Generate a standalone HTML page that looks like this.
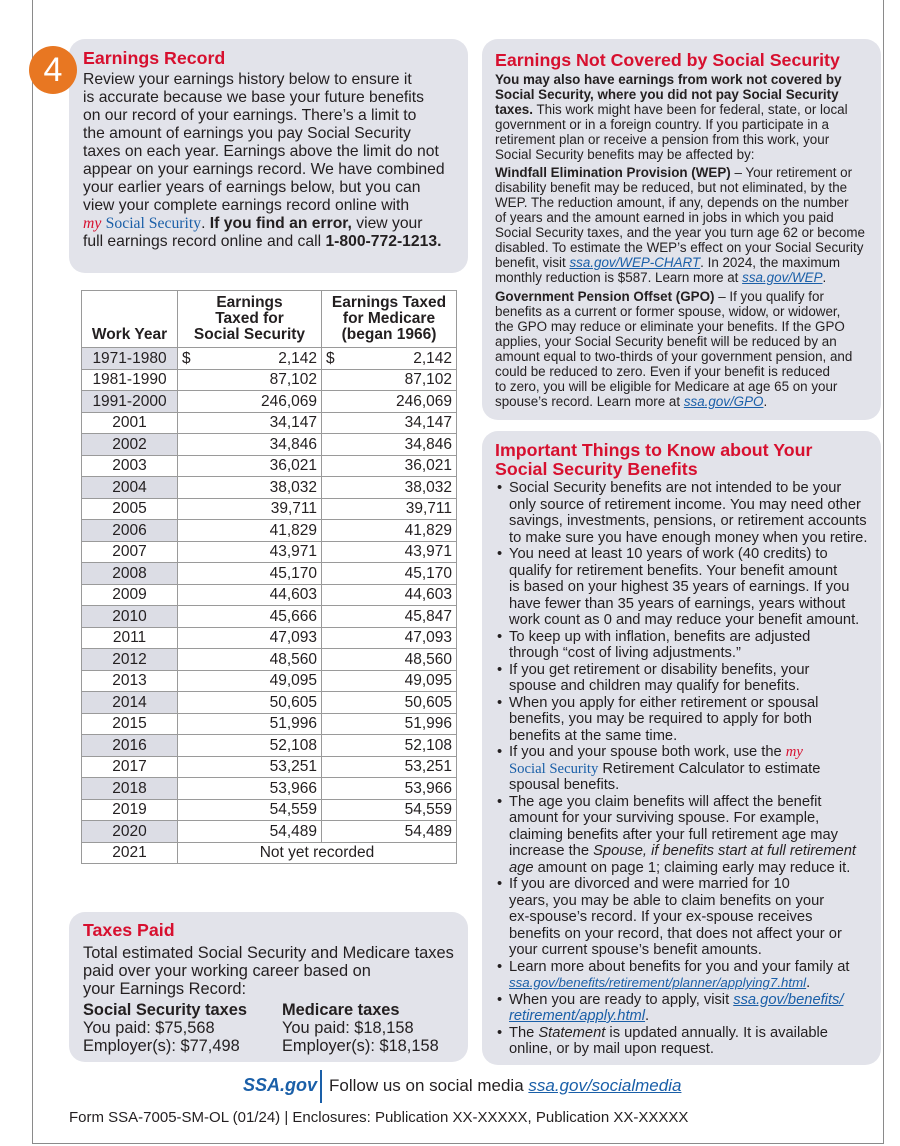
<!DOCTYPE html>
<html><head><meta charset="utf-8"><style>
*{margin:0;padding:0;box-sizing:border-box}
body{width:900px;height:1146px;background:#fff;position:relative;overflow:hidden;font-family:"Liberation Sans",Arial,sans-serif;color:#231f20}
.pg{position:absolute;left:32px;top:-2px;width:852px;height:1146px;border:1.5px solid #8a8a8a}
.box{position:absolute;background:#e2e3ea;border-radius:16px}
.t{position:absolute;white-space:nowrap}
.red{color:#d7102f;font-weight:bold}
.lnk{color:#1a5fa8;text-decoration:underline;font-style:italic}
.my{color:#d7102f;font-family:"Liberation Serif",serif;font-style:italic;line-height:1}
.ss{color:#1a5fa8;font-family:"Liberation Serif",serif;line-height:1}
table{position:absolute;left:81px;top:290px;width:376px;border-collapse:collapse;font-size:15.5px}
td{border:1px solid #9a9a9a;height:21.5px;padding:0 4px;line-height:19px}
td.y{text-align:center;width:96px}
tr:nth-child(even) td.y{background:#dcdde5}
td.n{text-align:right}
th{border:1px solid #9a9a9a;font-weight:bold;vertical-align:bottom;line-height:16px;padding:0 2px 4px;font-size:15.5px}
b{font-weight:bold}
.bul{position:absolute;left:497px;top:480px;font-size:14.7px;line-height:16.5px;white-space:nowrap}
.bul div{position:relative;padding-left:12px}
.bul div:before{content:"•";position:absolute;left:0}
</style></head><body>
<div class="pg"></div>

<div class="box" style="left:69px;top:39px;width:399px;height:234px"></div>
<div style="position:absolute;left:29px;top:46px;width:48px;height:48px;border-radius:50%;background:#e87722;color:#fff;font-size:34px;text-align:center;line-height:48px">4</div>
<div class="t red" style="left:83px;top:48px;font-size:17.8px">Earnings Record</div>
<div class="t" style="left:83px;top:71px;font-size:15.7px;line-height:18px">Review your earnings history below to ensure it<br>is accurate because we base your future benefits<br>on our record of your earnings. There’s a limit to<br>the amount of earnings you pay Social Security<br>taxes on each year. Earnings above the limit do not<br>appear on your earnings record. We have combined<br>your earlier years of earnings below, but you can<br>view your complete earnings record online with<br><span class="my">my</span> <span class="ss">Social Security</span>. <b>If you find an error,</b> view your<br>full earnings record online and call <b>1-800-772-1213.</b></div>

<table>
<tr style="height:57px"><th style="width:96px">Work Year</th><th style="width:144px">Earnings<br>Taxed for<br>Social Security</th><th>Earnings Taxed<br>for Medicare<br>(began 1966)</th></tr>
<tr><td class="y">1971-1980</td><td class="n"><span style="float:left">$</span>2,142</td><td class="n"><span style="float:left">$</span>2,142</td></tr>
<tr><td class="y">1981-1990</td><td class="n">87,102</td><td class="n">87,102</td></tr>
<tr><td class="y">1991-2000</td><td class="n">246,069</td><td class="n">246,069</td></tr>
<tr><td class="y">2001</td><td class="n">34,147</td><td class="n">34,147</td></tr>
<tr><td class="y">2002</td><td class="n">34,846</td><td class="n">34,846</td></tr>
<tr><td class="y">2003</td><td class="n">36,021</td><td class="n">36,021</td></tr>
<tr><td class="y">2004</td><td class="n">38,032</td><td class="n">38,032</td></tr>
<tr><td class="y">2005</td><td class="n">39,711</td><td class="n">39,711</td></tr>
<tr><td class="y">2006</td><td class="n">41,829</td><td class="n">41,829</td></tr>
<tr><td class="y">2007</td><td class="n">43,971</td><td class="n">43,971</td></tr>
<tr><td class="y">2008</td><td class="n">45,170</td><td class="n">45,170</td></tr>
<tr><td class="y">2009</td><td class="n">44,603</td><td class="n">44,603</td></tr>
<tr><td class="y">2010</td><td class="n">45,666</td><td class="n">45,847</td></tr>
<tr><td class="y">2011</td><td class="n">47,093</td><td class="n">47,093</td></tr>
<tr><td class="y">2012</td><td class="n">48,560</td><td class="n">48,560</td></tr>
<tr><td class="y">2013</td><td class="n">49,095</td><td class="n">49,095</td></tr>
<tr><td class="y">2014</td><td class="n">50,605</td><td class="n">50,605</td></tr>
<tr><td class="y">2015</td><td class="n">51,996</td><td class="n">51,996</td></tr>
<tr><td class="y">2016</td><td class="n">52,108</td><td class="n">52,108</td></tr>
<tr><td class="y">2017</td><td class="n">53,251</td><td class="n">53,251</td></tr>
<tr><td class="y">2018</td><td class="n">53,966</td><td class="n">53,966</td></tr>
<tr><td class="y">2019</td><td class="n">54,559</td><td class="n">54,559</td></tr>
<tr><td class="y">2020</td><td class="n">54,489</td><td class="n">54,489</td></tr>
<tr><td class="y" style="background:#fff">2021</td><td colspan="2" style="text-align:center">Not yet recorded</td></tr>
</table>

<div class="box" style="left:69px;top:912px;width:399px;height:150px"></div>
<div class="t red" style="left:83px;top:920px;font-size:17.8px">Taxes Paid</div>
<div class="t" style="left:83px;top:944px;font-size:16.4px;line-height:18px">Total estimated Social Security and Medicare taxes<br>paid over your working career based on<br>your Earnings Record:</div>
<div class="t" style="left:83px;top:1001px;font-size:16.4px;line-height:18px"><b>Social Security taxes</b><br>You paid: $75,568<br>Employer(s): $77,498</div>
<div class="t" style="left:282px;top:1001px;font-size:16.4px;line-height:18px"><b>Medicare taxes</b><br>You paid: $18,158<br>Employer(s): $18,158</div>

<div class="box" style="left:482px;top:39px;width:399px;height:381px"></div>
<div class="t red" style="left:495px;top:50px;font-size:17.8px">Earnings Not Covered by Social Security</div>
<div class="t" style="left:495px;top:72px;font-size:13.4px;line-height:15px"><b>You may also have earnings from work not covered by<br>Social Security, where you did not pay Social Security<br>taxes.</b> This work might have been for federal, state, or local<br>government or in a foreign country. If you participate in a<br>retirement plan or receive a pension from this work, your<br>Social Security benefits may be affected by:</div>
<div class="t" style="left:495px;top:165px;font-size:13.4px;line-height:15px"><b>Windfall Elimination Provision (WEP)</b> – Your retirement or<br>disability benefit may be reduced, but not eliminated, by the<br>WEP. The reduction amount, if any, depends on the number<br>of years and the amount earned in jobs in which you paid<br>Social Security taxes, and the year you turn age 62 or become<br>disabled. To estimate the WEP’s effect on your Social Security<br>benefit, visit <span class="lnk">ssa.gov/WEP-CHART</span>. In 2024, the maximum<br>monthly reduction is $587. Learn more at <span class="lnk">ssa.gov/WEP</span>.</div>
<div class="t" style="left:495px;top:289px;font-size:13.4px;line-height:15px"><b>Government Pension Offset (GPO)</b> – If you qualify for<br>benefits as a current or former spouse, widow, or widower,<br>the GPO may reduce or eliminate your benefits. If the GPO<br>applies, your Social Security benefit will be reduced by an<br>amount equal to two-thirds of your government pension, and<br>could be reduced to zero. Even if your benefit is reduced<br>to zero, you will be eligible for Medicare at age 65 on your<br>spouse’s record. Learn more at <span class="lnk">ssa.gov/GPO</span>.</div>

<div class="box" style="left:482px;top:431px;width:399px;height:634px"></div>
<div class="t red" style="left:495px;top:441px;font-size:17.8px;line-height:19px">Important Things to Know about Your<br>Social Security Benefits</div>
<div class="bul">
<div>Social Security benefits are not intended to be your<br>only source of retirement income. You may need other<br>savings, investments, pensions, or retirement accounts<br>to make sure you have enough money when you retire.</div>
<div>You need at least 10 years of work (40 credits) to<br>qualify for retirement benefits. Your benefit amount<br>is based on your highest 35 years of earnings. If you<br>have fewer than 35 years of earnings, years without<br>work count as 0 and may reduce your benefit amount.</div>
<div>To keep up with inflation, benefits are adjusted<br>through “cost of living adjustments.”</div>
<div>If you get retirement or disability benefits, your<br>spouse and children may qualify for benefits.</div>
<div>When you apply for either retirement or spousal<br>benefits, you may be required to apply for both<br>benefits at the same time.</div>
<div>If you and your spouse both work, use the <span class="my">my</span><br><span class="ss">Social Security</span> Retirement Calculator to estimate<br>spousal benefits.</div>
<div>The age you claim benefits will affect the benefit<br>amount for your surviving spouse. For example,<br>claiming benefits after your full retirement age may<br>increase the <i>Spouse, if benefits start at full retirement<br>age</i> amount on page 1; claiming early may reduce it.</div>
<div>If you are divorced and were married for 10<br>years, you may be able to claim benefits on your<br>ex-spouse’s record. If your ex-spouse receives<br>benefits on your record, that does not affect your or<br>your current spouse’s benefit amounts.</div>
<div>Learn more about benefits for you and your family at<br><span class="lnk" style="font-size:13.3px">ssa.gov/benefits/retirement/planner/applying7.html</span>.</div>
<div>When you are ready to apply, visit <span class="lnk">ssa.gov/benefits/<br>retirement/apply.html</span>.</div>
<div>The <i>Statement</i> is updated annually. It is available<br>online, or by mail upon request.</div>
</div>

<div class="t" style="left:243px;top:1075px;font-size:18px;font-weight:bold;font-style:italic;color:#1a5fa8">SSA.gov</div>
<div style="position:absolute;left:320px;top:1070px;width:1.5px;height:33px;background:#1a5fa8"></div>
<div class="t" style="left:329px;top:1076px;font-size:17px">Follow us on social media <span class="lnk">ssa.gov/socialmedia</span></div>
<div class="t" style="left:69px;top:1109px;font-size:15px">Form SSA-7005-SM-OL (01/24) | Enclosures: Publication XX-XXXXX, Publication XX-XXXXX</div>
</body></html>
